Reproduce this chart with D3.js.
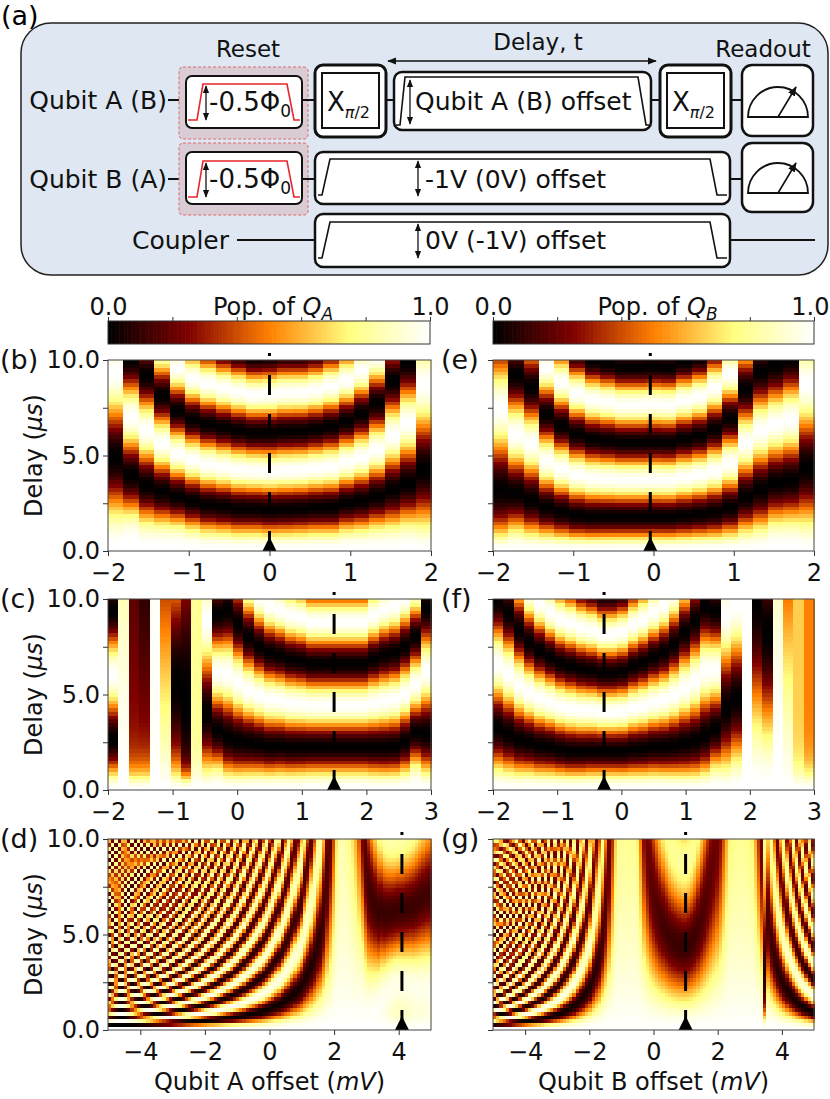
<!DOCTYPE html>
<html>
<head>
<meta charset="utf-8">
<script src="https://cdn.jsdelivr.net/npm/d3@7"></script>
<style>
body{margin:0;background:#fff;}
svg{display:block;font-family:"DejaVu Sans",sans-serif;}
</style>
</head>
<body>
<script>
//delay samples (us), one row per sample
var delays = d3.range(0, 51).map(function(i){ return i * 0.2; });

var freqB = [0.11,0.161,0.171,0.196,0.22,0.23,0.233,0.238,0.241,0.247,0.244,0.241,0.242,0.24,0.233,0.229,0.217,0.202,0.172,0.155,0.11];
var phaseB = [-0.04,-0.14,-0.09,-0.11,-0.13,-0.1,-0.06,-0.05,-0.03,-0.04,-0.02,-0.02,-0.03,-0.04,-0.03,-0.07,-0.07,-0.08,-0.05,-0.05,0.03];

var freqE = [0.114,0.159,0.166,0.201,0.216,0.229,0.239,0.244,0.25,0.25,0.249,0.25,0.244,0.239,0.226,0.21,0.174,0.159,0.16,0.154,0.112];
var phaseE = [0.14,0.02,0.06,0.05,0.07,0.09,0.09,0.08,0.07,0.07,0.07,0.07,0.06,0.05,0.05,0.03,0.01,-0.01,-0.07,-0.07,0.01];

var freqC = [0.145,0.01,0.005,0.01,0,0.02,0.05,0.03,0,0.1,
	0.161,0.147,0.159,0.177,0.191,0.2,0.207,0.213,0.217,0.225,
	0.225,0.225,0.225,0.225,0.225,0.213,0.204,0.2,0.196,0.196,
	0.15];
var phaseC = [0.12,0.02,0.31,0.3,0.04,0.08,0.22,0.36,0.15,0.1,
	0,0.1,0.1,0.07,0.05,0.05,0.03,0.03,0.02,0,
	0,0,0,0,0,0.03,0.05,0.05,0.01,-0.09,
	0.06];

var freqF = [0.146,0.155,0.17,0.187,0.197,0.208,0.216,0.22,0.227,0.233,
	0.24,0.24,0.235,0.225,0.217,0.208,0.198,0.184,0.168,0.155,
	0.145,0.159,0.1,0.1,0,0.05,0.06,0.01,0.02,0,
	0];
var phaseF = [0.03,0.05,0.06,0.04,0.05,0.04,0.05,0.06,0.05,0.03,
	0.02,0.02,0.03,0.03,0.04,0.04,0.06,0.08,0.1,0.11,
	0.09,-0.01,0.07,0.02,0.02,0,0,0,0.05,0.2,
	0.25];

var freqD = [2.72,2.66,2.60,2.54,2.48,2.42,2.36,2.30,2.25,2.19,
	2.14,2.08,2.03,1.98,1.92,1.87,1.82,1.77,1.72,1.67,
	1.62,1.57,1.53,1.48,1.43,1.39,1.34,1.30,1.26,1.21,
	1.17,1.13,1.09,1.05,1.01,0.97,0.93,0.89,0.86,0.82,
	0.79,0.75,0.72,0.68,0.65,0.62,0.59,0.56,0.53,0.50,
	0.47,0.44,0.41,0.39,0.36,0.33,0.31,0.28,0.26,0.24,
	0.22,0.19,0.17,0.15,0.13,0.11,0.10,0.08,0.06,0.045,
	0.03,0.015,0,0,0.005,0.01,0.015,0.02,0.03,0.045,
	0.06,0.075,0.085,0.095,0.105,0.11,0.118,0.124,0.128,0.13,
	0.13,0.13,0.128,0.125,0.122,0.118,0.114,0.11,0.106,0.102,
	0.1];
var phaseD = [0,0,0,0,0,0,0,0,0,0,
	0,0,0,0,0,0,0,0,0,0,
	0,0,0,0,0,0,0,0,0,0,
	0,0,0,0,0,0,0,0,0,0,
	0,0,0,0,0,0,0,0,0,0,
	0,0,0,0,0,0,0,0,0,0,
	0,0,0,0,0,0,0,0,0,0,
	0,0,0,0,0,0,0,0,-0.02,-0.05,
	-0.05,-0.07,-0.1,-0.13,-0.16,-0.2,-0.23,-0.27,-0.3,-0.32,
	-0.33,-0.33,-0.32,-0.31,-0.3,-0.28,-0.27,-0.26,-0.25,-0.24,
	-0.23];

var freqG = [2.11,2.01,1.92,1.84,1.75,1.67,1.58,1.50,1.43,1.35,
	1.28,1.20,1.13,1.07,1.00,0.94,0.87,0.81,0.76,0.70,
	0.65,0.59,0.54,0.50,0.45,0.41,0.36,0.32,0.29,0.25,
	0.22,0.18,0.15,0.13,0.10,0.076,0.054,0.034,0.016,0,
	0,0,0,0,0,0.01,0.025,0.04,0.05,0.06,
	0.068,0.075,0.082,0.088,0.094,0.1,0.104,0.107,0.11,0.112,
	0.112,0.11,0.106,0.1,0.092,0.083,0.075,0.067,0.06,0.054,
	0.048,0.04,0.03,0.02,0.01,0.005,0,0,0,0,
	0.005,0.01,0.02,0.033,0.048,0.065,0.084,0.105,0.128,0.153,
	0.18,0.209,0.24,0.273,0.308,0.345,0.384,0.425,0.468,0.513,
	0.56];
var phaseG = [0,0,0,0,0,0,0,0,0,0,
	0,0,0,0,0,0,0,0,0,0,
	0,0,0,0,0,0,0,0,0,0,
	0,0,0,0,0,0,0,0,0,0,
	0,0,0,0,0,0,0,0,0,0,
	0,0,0,0,0,0,0,0,0,0,
	0,0,0,0,0,0,0,0,0,0,
	0,0,0,0,0,0,0,0,0,0,
	0,0,0,0,0,0.3,0,0,0,0,
	0,0,0,0,0,0,0,0,0,0,
	0];

//tick labels
var xTicksNarrow = [-2,-1,0,1,2];
var xTicksMid = [-2,-1,0,1,2,3];
var xTicksWide = [-4,-2,0,2,4];
var yTicks = [0,2.5,5,7.5,10];
var cbarTicks = [0,0.2,0.4,0.6,0.8,1.0];

//offset where the dashed marker sits in each map
var markers = {b:0, c:1.5, d:4.1, e:-0.04, f:-0.27, g:1.0};

var W = 830, H = 1099, TAU = 0.8;

var svg = d3.select("body").append("svg")
	.attr("width", W)
	.attr("height", H);

//matplotlib afmhot
var afmhot = function(v){
	var c = function(x){ return Math.max(0, Math.min(1, x)); };
	return d3.rgb(255*c(2*v), 255*c(2*v - 0.5), 255*c(2*v - 1)).toString();
};
var color = d3.scaleSequential(afmhot).domain([0,1]);

//Ramsey population for one column at delay t
var ramsey = function(f, ph, t, T2){
	var phase = f*t + ph*(1 - Math.exp(-t/TAU));
	var env = T2 ? Math.exp(-t/T2) : 1;
	return 0.5 + 0.5*env*Math.cos(2*Math.PI*phase);
};

var defs = svg.append("defs");
defs.append("marker")
	.attr("id","ah")
	.attr("viewBox","0 0 10 10")
	.attr("refX",9).attr("refY",5)
	.attr("markerWidth",6).attr("markerHeight",6)
	.attr("orient","auto-start-reverse")
	.append("path").attr("d","M0,1 L10,5 L0,9 z").attr("fill","#111");

/* ---------------- panel (a): pulse sequence ---------------- */
var load_sequence = function(){
	var a = svg.append("g");

	a.append("rect")
		.attr("x",21).attr("y",23).attr("width",807).attr("height",252)
		.attr("rx",30).attr("ry",30)
		.attr("fill","#dfe8f2").attr("stroke","#222").attr("stroke-width",1.5);

	a.append("text").text("(a)").attr("x",1).attr("y",25).style("font-size","27px");

	[["Reset",248,57],["Delay, t",538,50],["Readout",763,57]].forEach(function(h){
		a.append("text").text(h[0]).attr("x",h[1]).attr("y",h[2])
			.attr("text-anchor","middle").style("font-size","23px").attr("fill","#111");
	});

	a.append("line")
		.attr("x1",388).attr("x2",656).attr("y1",61).attr("y2",61)
		.attr("stroke","#111").attr("stroke-width",1.5)
		.attr("marker-start","url(#ah)").attr("marker-end","url(#ah)");

	var hline = function(x1,x2,y){
		a.append("line").attr("x1",x1).attr("x2",x2).attr("y1",y).attr("y2",y)
			.attr("stroke","#111").attr("stroke-width",2);
	};
	var box = function(x,y,w,h,r,sw){
		a.append("rect").attr("x",x).attr("y",y).attr("width",w).attr("height",h)
			.attr("rx",r).attr("ry",r)
			.attr("fill","white").attr("stroke","#111").attr("stroke-width",sw);
	};
	var darrow = function(x,y1,y2){
		a.append("line").attr("x1",x).attr("x2",x).attr("y1",y1).attr("y2",y2)
			.attr("stroke","#111").attr("stroke-width",1.3)
			.attr("marker-start","url(#ah)").attr("marker-end","url(#ah)");
	};
	var pulse = function(pts,col){
		a.append("path").attr("d", d3.line()(pts))
			.attr("fill","none").attr("stroke",col).attr("stroke-width",1.6);
	};
	var flux = function(x,y){
		var t = a.append("text").attr("x",x).attr("y",y).style("font-size","26px").attr("fill","#111");
		t.append("tspan").text("-0.5\u03A6");
		t.append("tspan").text("0").attr("dy",6).style("font-size","17px");
	};
	var xgate = function(x,y){
		box(x,y,71,72,8,3);
		a.append("rect").attr("x",x+7).attr("y",y+8).attr("width",57).attr("height",55)
			.attr("fill","white").attr("stroke","#111").attr("stroke-width",2);
		var t = a.append("text").attr("x",x+12).attr("y",y+46).style("font-size","26px").attr("fill","#111");
		t.append("tspan").text("X");
		t.append("tspan").text("\u03C0").attr("dy",7).style("font-size","16px").style("font-style","italic");
		t.append("tspan").text("/2").style("font-size","16px");
	};
	var meter = function(x,y,h){
		box(x,y,71,h,10,2.5);
		var cx = x+36, by = y+h-19, r = 30;
		a.append("path")
			.attr("d","M"+(cx-r)+","+by+" A"+r+","+r+" 0 0 1 "+(cx+r)+","+by+" Z")
			.attr("fill","white").attr("stroke","#111").attr("stroke-width",1.8);
		a.append("line").attr("x1",cx).attr("y1",by).attr("x2",cx+18).attr("y2",by-30)
			.attr("stroke","#111").attr("stroke-width",1.6).attr("marker-end","url(#ah)");
	};
	var reset = function(y,by){
		a.append("rect").attr("x",179).attr("y",y).attr("width",129).attr("height",72)
			.attr("rx",4).attr("fill","#d9ccd4")
			.attr("stroke","#e06868").attr("stroke-width",1).attr("stroke-dasharray","3,2");
		box(186,y+9,116,52,6,2);
		pulse([[188,by],[197,by],[203,by-36],[287,by-36],[294,by],[300,by]],"#e8262b");
		darrow(206,by-34,by);
		flux(209,by-9);
	};

	//row 1: qubit under test
	a.append("text").text("Qubit A (B)").attr("x",167).attr("y",109)
		.attr("text-anchor","end").style("font-size","25px").attr("fill","#111");
	hline(168,186,100);
	reset(67,120);
	hline(302,315,100); xgate(315,65);
	hline(386,394,100);
	box(394,72,257,58,8,2.5);
	pulse([[396,125],[400,125],[405,77],[638,77],[646,125],[649,125]],"#111");
	darrow(410,80,124);
	a.append("text").text("Qubit A (B) offset").attr("x",415).attr("y",110)
		.style("font-size","25px").attr("fill","#111");
	hline(651,660,100); xgate(660,65);
	hline(731,742,100); meter(742,65,71);

	//row 2: partner qubit
	a.append("text").text("Qubit B (A)").attr("x",167).attr("y",188)
		.attr("text-anchor","end").style("font-size","25px").attr("fill","#111");
	hline(168,186,179);
	reset(143,197);
	hline(302,315,179);
	box(315,152,415,52,8,2.5);
	pulse([[318,195],[322,195],[330,159],[710,159],[717,195],[727,195]],"#111");
	darrow(418,161,196);
	a.append("text").text("-1V (0V) offset").attr("x",425).attr("y",188)
		.style("font-size","25px").attr("fill","#111");
	hline(730,742,179); meter(742,143,69);

	//row 3: coupler
	a.append("text").text("Coupler").attr("x",229).attr("y",249)
		.attr("text-anchor","end").style("font-size","25px").attr("fill","#111");
	hline(237,315,240);
	box(315,214,415,53,8,2.5);
	pulse([[318,258],[322,258],[330,222],[710,222],[717,258],[727,258]],"#111");
	darrow(418,224,258);
	a.append("text").text("0V (-1V) offset").attr("x",425).attr("y",249)
		.style("font-size","25px").attr("fill","#111");
	hline(730,815,240);
};

/* ---------------- colour bars ---------------- */
var load_colorbar = function(x0,x1,sub){
	var g = svg.append("g");
	var cx = d3.scaleLinear().domain([0,1]).range([x0,x1]);
	var steps = d3.range(0,200).map(function(i){ return i/200; });
	g.selectAll("rect.cb").data(steps).join("rect")
		.attr("x",function(d){ return cx(d); })
		.attr("width",function(d){ return cx(d+0.005) - cx(d) + 0.6; })
		.attr("y",321).attr("height",23)
		.attr("fill",function(d){ return color(d + 0.0025); });
	g.append("rect").attr("x",x0).attr("y",321).attr("width",x1-x0).attr("height",23)
		.attr("fill","none").attr("stroke","#333").attr("stroke-width",1);
	var ax = g.append("g").attr("transform","translate(0,321)")
		.call(d3.axisTop(cx).tickValues(cbarTicks).tickSize(4).tickPadding(2).tickSizeOuter(0)
			.tickFormat(function(d){ return (d===0 || d===1) ? d.toFixed(1) : ""; }));
	ax.select(".domain").remove();
	ax.selectAll("text").style("font-size","24px").style("font-family","DejaVu Sans").attr("fill","#111");
	ax.selectAll("line").attr("stroke","#333");
	//keep the right-hand label inside the page
	if(x1 + 20 > W){
		ax.selectAll(".tick").filter(function(d){ return d === 1; }).select("text")
			.attr("text-anchor","end").attr("x", W - 1 - x1);
	}
	var t = g.append("text").attr("x",(x0+x1)/2 + 4).attr("y",315)
		.attr("text-anchor","middle").style("font-size","24px").attr("fill","#111");
	t.append("tspan").text("Pop. of ");
	t.append("tspan").text("Q").style("font-style","italic");
	t.append("tspan").text(sub).attr("dy",5).style("font-size","17px").style("font-style","italic");
};

/* ---------------- Ramsey maps ---------------- */
var load_map = function(p){
	var g = svg.append("g");
	var x = d3.scaleLinear().domain(p.ext).range([p.left,p.right]);
	var y = d3.scaleLinear().domain([0,10]).range([p.bottom,p.top]);
	var n = p.freq.length, dx = (p.ext[1]-p.ext[0])/n, dt = 10/delays.length;

	var cells = [];
	p.freq.forEach(function(f,i){
		delays.forEach(function(t,j){
			cells.push({i:i, j:j, v:ramsey(f, p.phase[i], t, p.T2)});
		});
	});

	g.selectAll("rect.cell").data(cells).join("rect")
		.attr("class","cell")
		.attr("x",function(d){ return x(p.ext[0] + d.i*dx); })
		.attr("width",function(d){ return x(p.ext[0] + (d.i+1)*dx) - x(p.ext[0] + d.i*dx) + 0.5; })
		.attr("y",function(d){ return y((d.j+1)*dt); })
		.attr("height",function(d){ return y(d.j*dt) - y((d.j+1)*dt) + 0.5; })
		.attr("fill",function(d){ return color(d.v); })
		.attr("shape-rendering","crispEdges");

	//dashed marker, triangle and little tick above the frame
	var mx = x(p.marker);
	g.append("line").attr("x1",mx).attr("x2",mx).attr("y1",p.bottom).attr("y2",p.top)
		.attr("stroke","black").attr("stroke-width",3).attr("stroke-dasharray","20,19");
	g.append("path")
		.attr("d","M"+(mx-7)+","+p.bottom+" L"+mx+","+(p.bottom-14)+" L"+(mx+7)+","+p.bottom+" Z")
		.attr("fill","black");
	g.append("rect").attr("x",mx-1.5).attr("y",p.top-7).attr("width",3).attr("height",3).attr("fill","black");

	g.append("rect").attr("x",p.left).attr("y",p.top)
		.attr("width",p.right-p.left).attr("height",p.bottom-p.top)
		.attr("fill","none").attr("stroke","#444").attr("stroke-width",1);

	var xa = g.append("g").attr("transform","translate(0,"+p.bottom+")")
		.call(d3.axisBottom(x).tickValues(p.ticks).tickSize(5).tickPadding(3).tickSizeOuter(0)
			.tickFormat(d3.format("d")));
	var ya = g.append("g").attr("transform","translate("+p.left+",0)")
		.call(d3.axisLeft(y).tickValues(yTicks).tickSize(5).tickPadding(3).tickSizeOuter(0)
			.tickFormat(function(d){ return (p.ylab && d % 5 === 0) ? d.toFixed(1) : ""; }));
	[xa,ya].forEach(function(ax){
		ax.select(".domain").remove();
		ax.selectAll("text").style("font-size","24px").style("font-family","DejaVu Sans").attr("fill","#111");
		ax.selectAll("line").attr("stroke","#333");
	});
	xa.selectAll("text").attr("dy","0.9em");

	g.append("text").text(p.label).attr("x",p.labelX).attr("y",p.top+9)
		.style("font-size","27px").attr("fill","#111");

	if(p.ylab){
		var yl = g.append("text")
			.attr("transform","translate(34,"+((p.top+p.bottom)/2)+") rotate(-90)")
			.attr("text-anchor","middle").attr("dy","0.35em")
			.style("font-size","24px").attr("fill","#111");
		yl.append("tspan").text("Delay (");
		yl.append("tspan").text("\u03BCs").style("font-style","italic");
		yl.append("tspan").text(")");
	}
	if(p.xlab){
		var xl = g.append("text").attr("x",(p.left+p.right)/2).attr("y",1090)
			.attr("text-anchor","middle").style("font-size","24px").attr("fill","#111");
		xl.append("tspan").text(p.xlab + " offset (");
		xl.append("tspan").text("mV").style("font-style","italic");
		xl.append("tspan").text(")");
	}
};

load_sequence();
load_colorbar(108,430,"A");
load_colorbar(493,814,"B");

var maps = [
	{label:"(b)", labelX:0, freq:freqB, phase:phaseB, ext:[-2,2], ticks:xTicksNarrow, marker:markers.b,
		left:108, right:431, top:360, bottom:551, ylab:true},
	{label:"(e)", labelX:441, freq:freqE, phase:phaseE, ext:[-2,2], ticks:xTicksNarrow, marker:markers.e,
		left:493, right:814, top:360, bottom:551},
	{label:"(c)", labelX:0, freq:freqC, phase:phaseC, ext:[-2,3], ticks:xTicksMid, marker:markers.c,
		left:108, right:431, top:599, bottom:790, ylab:true},
	{label:"(f)", labelX:441, freq:freqF, phase:phaseF, ext:[-2,3], ticks:xTicksMid, marker:markers.f,
		left:493, right:814, top:599, bottom:790},
	{label:"(d)", labelX:0, freq:freqD, phase:phaseD, ext:[-5,5], ticks:xTicksWide, marker:markers.d, T2:25,
		left:108, right:431, top:839, bottom:1030, ylab:true, xlab:"Qubit A"},
	{label:"(g)", labelX:441, freq:freqG, phase:phaseG, ext:[-5,5], ticks:xTicksWide, marker:markers.g, T2:18,
		left:493, right:814, top:839, bottom:1030, xlab:"Qubit B"}
];
maps.forEach(load_map);
</script>
</body>
</html>
